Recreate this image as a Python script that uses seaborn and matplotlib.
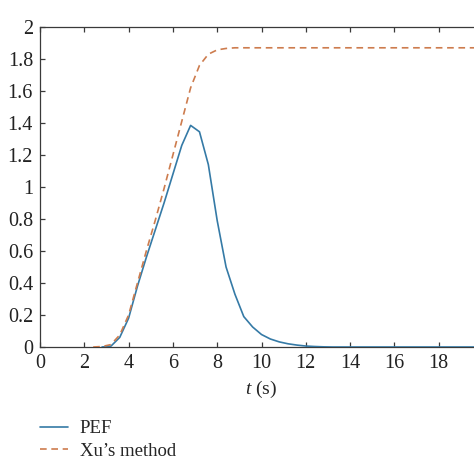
import numpy as np
import pandas as pd
import matplotlib
matplotlib.use("Agg")
import matplotlib.pyplot as plt
import seaborn as sns

# ---- data ----
t_pef = [2.8, 3.2, 3.6, 4.0, 4.4, 4.8, 5.2, 5.6, 6.0, 6.4, 6.8, 7.2, 7.6, 8.0,
         8.4, 8.8, 9.2, 9.6, 10.0, 10.4, 10.8, 11.2, 11.6, 12.0, 12.4, 12.8,
         13.2, 20.0]
v_pef = [0.0, 0.005, 0.06, 0.18, 0.38, 0.56, 0.73, 0.90, 1.08, 1.26, 1.385,
         1.345, 1.14, 0.79, 0.50, 0.33, 0.19, 0.125, 0.078, 0.05, 0.032, 0.02,
         0.012, 0.006, 0.003, 0.001, 0.0, 0.0]

t_xu = [2.4, 2.8, 3.2, 3.6, 4.0, 4.4, 4.8, 5.2, 5.6, 6.0, 6.4, 6.8, 7.2, 7.6,
        8.0, 8.4, 8.8, 20.0]
v_xu = [0.0, 0.003, 0.015, 0.075, 0.20, 0.40, 0.60, 0.79, 0.99, 1.20, 1.41,
        1.62, 1.76, 1.83, 1.857, 1.866, 1.87, 1.87]

x_ticks = [0, 2, 4, 6, 8, 10, 12, 14, 16, 18]
y_ticks = [0, 0.2, 0.4, 0.6, 0.8, 1, 1.2, 1.4, 1.6, 1.8, 2]
y_tick_labels = ["0", "0.2", "0.4", "0.6", "0.8", "1", "1.2", "1.4", "1.6", "1.8", "2"]
series_names = ["PEF", "Xu\u2019s method"]
x_label = "$t$ (s)"

sns.set_theme(style="ticks")
plt.rcParams["font.family"] = ["Liberation Serif", "DejaVu Serif"]
plt.rcParams["mathtext.fontset"] = "custom"
plt.rcParams["mathtext.it"] = "Liberation Serif:italic"
plt.rcParams["mathtext.rm"] = "Liberation Serif"

df_pef = pd.DataFrame({"t": t_pef, "v": v_pef})
df_xu = pd.DataFrame({"t": t_xu, "v": v_xu})

fig = plt.figure(figsize=(4.74, 4.74), dpi=100)
ax = fig.add_axes([40 / 474, 127 / 474, 443 / 474, 320 / 474])

blue = "#357aa6"
orange = "#cd7c4e"

sns.lineplot(data=df_pef, x="t", y="v", ax=ax, color=blue, lw=1.2,
             label=series_names[0], zorder=3)
sns.lineplot(data=df_xu, x="t", y="v", ax=ax, color=orange, lw=1.2,
             linestyle=(0, (4, 2.8)), label=series_names[1], zorder=3)

ax.set_xlim(0, 20)
ax.set_ylim(0, 2)
ax.set_xticks(x_ticks)
ax.set_yticks(y_ticks)
ax.set_yticklabels(y_tick_labels)
ax.set_xlabel(x_label, fontsize=14, labelpad=4)
ax.set_ylabel("")

for s in ax.spines.values():
    s.set_color("#3a3a3a")
    s.set_linewidth(0.9)
    s.set_visible(True)

ax.tick_params(direction="in", top=True, right=True, length=3.8, width=0.9,
               color="#3a3a3a", labelsize=14.5, labelcolor="#222222", pad=5)

ax.get_legend().remove()
handles, labels = ax.get_legend_handles_labels()
fig.legend(handles, labels, loc="upper left", bbox_to_anchor=(0.084, 0.114),
           frameon=False, fontsize=13.5, handlelength=1.5, handletextpad=0.62,
           labelspacing=0.3, borderaxespad=0, borderpad=0)

fig.savefig("out.png", dpi=100)
